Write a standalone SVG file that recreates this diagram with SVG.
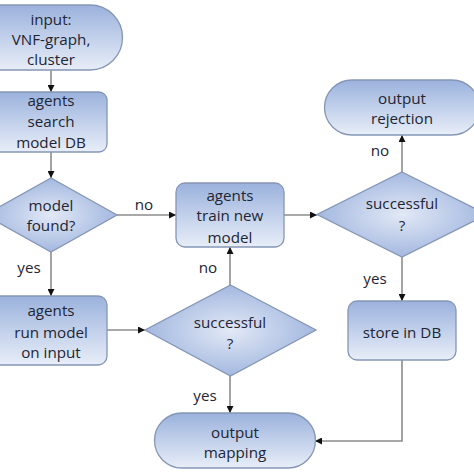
<svg xmlns="http://www.w3.org/2000/svg" width="474" height="474" viewBox="0 0 474 474">
<defs>
<linearGradient id="gb" x1="0" y1="0" x2="0" y2="1">
<stop offset="0" stop-color="#9bb2dd"/>
<stop offset="1" stop-color="#e8eef8"/>
</linearGradient>
<radialGradient id="gd" cx="0.5" cy="0.5" r="0.6">
<stop offset="0" stop-color="#e2e9f6"/>
<stop offset="1" stop-color="#97aedb"/>
</radialGradient>
<marker id="ah" viewBox="0 0 10 10" refX="10" refY="5" markerWidth="7" markerHeight="7" markerUnits="userSpaceOnUse" orient="auto">
<path d="M0,0 L10,5 L0,10 z" fill="#111"/>
</marker>
<style>
.box{fill:url(#gb);stroke:#8596b5;stroke-width:1.3}
.dia{fill:url(#gd);stroke:#8596b5;stroke-width:1.3}
.t{font-family:"Open Sans","Liberation Sans",Arial,sans-serif;font-size:15.2px;fill:#1e2533;text-anchor:middle}
.c{fill:none;stroke:#8c8c8c;stroke-width:1.6}
.ca{fill:none;stroke:#8c8c8c;stroke-width:1.6;marker-end:url(#ah)}
</style>
</defs>
<rect width="474" height="474" fill="#fff"/>
<g id="connectors">
<line class="ca" x1="51" y1="70" x2="51" y2="92"/>
<line class="ca" x1="51" y1="152" x2="51" y2="178"/>
<line class="ca" x1="51" y1="252" x2="51" y2="296"/>
<line class="ca" x1="117" y1="215" x2="176" y2="215"/>
<line class="ca" x1="107" y1="330" x2="145" y2="330"/>
<line class="ca" x1="230" y1="285" x2="230" y2="247"/>
<line class="ca" x1="230" y1="376" x2="230" y2="413"/>
<line class="ca" x1="284" y1="215" x2="317" y2="215"/>
<line class="ca" x1="402" y1="172" x2="402" y2="135"/>
<line class="ca" x1="402" y1="257" x2="402" y2="301"/>
<polyline class="ca" points="402,360 402,441 315,441"/>
<text class="t" x="144" y="210">no</text>
<text class="t" x="29" y="273">yes</text>
<text class="t" x="208" y="273">no</text>
<text class="t" x="205" y="401">yes</text>
<text class="t" x="380" y="156">no</text>
<text class="t" x="375" y="284">yes</text>
</g>
<g id="input">
<path class="box" d="M-20,5 H90 A32.5,32.5 0 0 1 90,70 H-20 z"/>
<text class="t" x="51" y="25">input:</text>
<text class="t" x="51" y="45">VNF-graph,</text>
<text class="t" x="51" y="65">cluster</text>
</g>
<g id="search">
<rect class="box" x="-10" y="92" width="117" height="60" rx="8"/>
<text class="t" x="51" y="106">agents</text>
<text class="t" x="51" y="127">search</text>
<text class="t" x="51" y="148">model DB</text>
</g>
<g id="found">
<polygon class="dia" points="51,178 117,215 51,252 -15,215"/>
<text class="t" x="51" y="211">model</text>
<text class="t" x="51" y="231">found?</text>
</g>
<g id="run">
<rect class="box" x="-10" y="296" width="117" height="69" rx="9"/>
<text class="t" x="51" y="316">agents</text>
<text class="t" x="51" y="338">run model</text>
<text class="t" x="51" y="358">on input</text>
</g>
<g id="train">
<rect class="box" x="176" y="183" width="108" height="64" rx="9"/>
<text class="t" x="230" y="201">agents</text>
<text class="t" x="230" y="221">train new</text>
<text class="t" x="230" y="243">model</text>
</g>
<g id="success1">
<polygon class="dia" points="230.5,285 316,330 230.5,376 145,330"/>
<text class="t" x="230" y="328">successful</text>
<text class="t" x="230" y="349">?</text>
</g>
<g id="mapping">
<path class="box" d="M182,413 H288 A27.5,27.5 0 0 1 288,468 H182 A27.5,27.5 0 0 1 182,413 z"/>
<text class="t" x="235" y="438">output</text>
<text class="t" x="235" y="458">mapping</text>
</g>
<g id="success2">
<polygon class="dia" points="402,172 487,214.5 402,257 317,214.5"/>
<text class="t" x="402" y="209">successful</text>
<text class="t" x="402" y="231">?</text>
</g>
<g id="rejection">
<path class="box" d="M352,80 H452 A27.5,27.5 0 0 1 452,135 H352 A27.5,27.5 0 0 1 352,80 z"/>
<text class="t" x="402" y="104">output</text>
<text class="t" x="402" y="124">rejection</text>
</g>
<g id="store">
<rect class="box" x="348" y="301" width="108" height="59" rx="9"/>
<text class="t" x="402" y="338">store in DB</text>
</g>
</svg>
